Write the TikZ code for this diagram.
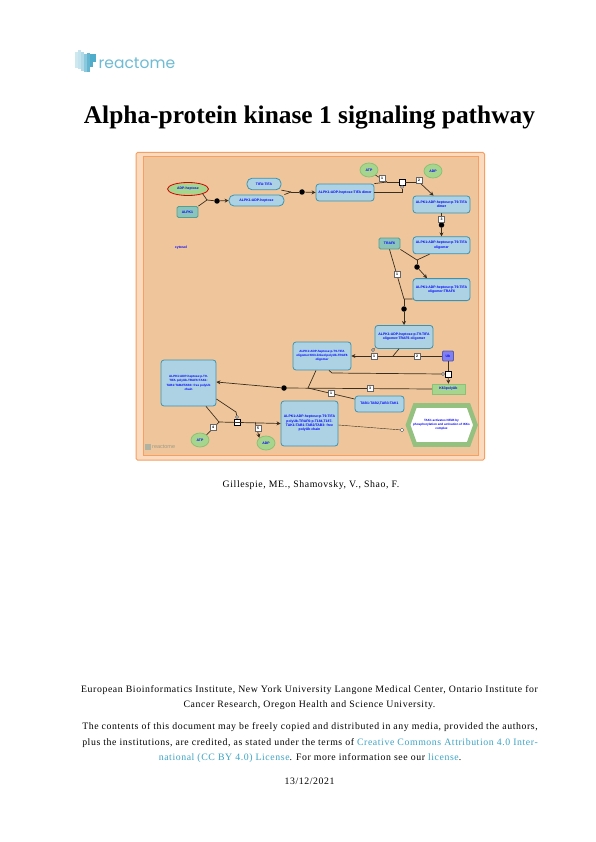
\documentclass[tikz,border=0pt]{standalone}
\usepackage{fontspec}
\usepackage{xcolor}
\setmainfont{Liberation Serif}
\setsansfont{Liberation Sans}
\newfontfamily\logofont{Poppins}
\newfontfamily\bodyfont[LetterSpace=6]{Liberation Serif}
\usetikzlibrary{arrows.meta,positioning,shapes}
\definecolor{panelout}{RGB}{250,219,192}
\definecolor{panelin}  {RGB}{239,198,155}
\definecolor{panelline}{RGB}{248,158,96}
\definecolor{cplxblue} {RGB}{172,210,228}
\definecolor{cplxline} {RGB}{60,146,176}
\definecolor{protteal} {RGB}{138,196,186}
\definecolor{protline} {RGB}{88,158,142}
\definecolor{chemgreen}{RGB}{166,214,142}
\definecolor{chemline} {RGB}{140,192,120}
\definecolor{ubblue}   {RGB}{128,128,240}
\definecolor{linkblue} {RGB}{62,164,198}
\definecolor{edgedark} {RGB}{58,46,32}
\tikzset{
  nodetext/.style={font=\sffamily\bfseries\fontsize{3.45}{4.4}\selectfont, text=blue, align=center},
  smalltext/.style={font=\sffamily\bfseries\fontsize{3.05}{4.2}\selectfont},
  mainbox/.style={draw=cplxline, fill=cplxblue, line width=0.8pt, rounded corners=3pt,
                  nodetext, inner sep=0pt, minimum width=#1},
  mainbox/.default=57pt,
  protbox/.style={draw=protline, fill=protteal, line width=0.8pt, rounded corners=1.5pt,
                  nodetext, inner sep=0pt, minimum width=#1, minimum height=11pt},
  chemnode/.style={ellipse, draw=chemline, fill=chemgreen, line width=0.8pt,
                   nodetext, inner sep=0pt, minimum width=18pt, minimum height=14pt},
  dotnode/.style={circle, fill=black, inner sep=0pt, minimum size=5.5pt},
  procnode/.style={draw=black, fill=white, line width=0.5pt, inner sep=0pt, minimum size=6pt},
  catnode/.style={circle, draw=black!70, fill=white, line width=0.4pt, inner sep=0pt, minimum size=3pt},
  numnode/.style={draw=black!60, fill=white, line width=0.8pt, inner sep=0pt, minimum size=6pt,
                  font=\sffamily\bfseries\fontsize{3.5}{4}\selectfont},
  sline/.style={draw=edgedark, line width=0.7pt},
  arr/.style={sline, -{Stealth[length=4pt,width=4pt]}},
  bodyline/.style={font=\bodyfont\fontsize{9.8}{11}\selectfont, inner sep=0pt},
  panelbox/.style={line width=1pt, draw=panelline},
}
\begin{document}
\begin{tikzpicture}[x=1pt,y=-1pt]
  \useasboundingbox (0,0) rectangle (595,842);
  \fill[white] (0,0) rectangle (595,842);
  % logo
  \foreach \lx/\ly/\lh/\lo in {75/52/16/.25,78/50/19/.3,81/52/19/.4,84/54/18/.6,87/53/19/.8,90/54/13/.9,93/54/8/.9}
    \fill[linkblue, opacity=\lo] (\lx,\ly) rectangle (\lx+3,\ly+\lh);
  \node[font=\logofont\fontsize{15.5}{18}\selectfont, text=linkblue!75, inner sep=0pt, anchor=west] (logo) at (98.5,63) {reactome};
  \node[font=\bfseries\fontsize{25.4}{28}\selectfont, inner sep=0pt] (title) at (309.5,117) {Alpha-protein kinase 1 signaling pathway};
  % panel
  \draw[panelbox, fill=panelout, rounded corners=1.5pt] (136,152.5) rectangle (484.5,460);
  \draw[panelbox, fill=panelin] (143,157) rectangle (478,455);
  \node[nodetext] (cytosol) at (181,248) {cytosol};
  \node[font=\sffamily\fontsize{5.5}{6}\selectfont, text=black!40!cplxline, opacity=.4, inner sep=0pt, anchor=west] (wmark) at (152,447) {reactome};
  \fill[cplxline, opacity=.35] (145,444) rectangle (150.5,450);
  % molecules
  \node[chemnode, draw=red!85!black, minimum width=41pt, minimum height=13pt] (adphep) at (188,189) {ADP-heptose};
  \node[protbox=21pt] (alpk) at (187.5,212) {ALPK1};
  \node[mainbox=55pt, minimum height=11pt, rounded corners=5pt] (cplxA) at (256.5,200.5) {ALPK1:ADP-heptose};
  \node[mainbox=34pt, minimum height=11.5pt, rounded corners=5pt] (tifa) at (264,184) {TIFA:TIFA};
  \node[mainbox=58pt, minimum height=17pt] (cplxB) at (345,192.5) {ALPK1:ADP-heptose:TIFA dimer};
  \node[chemnode] (atpA) at (369,170) {ATP};
  \node[chemnode] (adpA) at (433,171) {ADP};
  \node[mainbox, minimum height=17pt] (cplxC) at (441.5,204.5) {ALPK1:ADP-heptose:p-T9-TIFA\\dimer};
  \node[mainbox, minimum height=17pt, below=23pt of cplxC] (cplxD) {ALPK1:ADP-heptose:p-T9-TIFA\\oligomer};
  \node[protbox=21pt] (traf) at (389.5,243.5) {TRAF6};
  \node[mainbox, minimum height=22pt, below=24pt of cplxD] (cplxE) {ALPK1:ADP-heptose:p-T9-TIFA\\oligomer:TRAF6};
  \node[mainbox=58pt, minimum height=23pt, below=24pt of cplxE, xshift=-37.5pt] (cplxF) {ALPK1:ADP-heptose:p-T9-TIFA\\oligomer:TRAF6 oligomer};
  \node[mainbox=58pt, minimum height=28pt, smalltext] (cplxG) at (322,356) {ALPK1:ADP-heptose:p-T9-TIFA\\oligomer:K63-linked polyUb-TRAF6\\oligomer};
  \node[draw=ubblue!70!black, fill=ubblue, line width=0.8pt, rounded corners=1pt, nodetext,
        inner sep=0pt, minimum width=11pt, minimum height=10pt] (ub) at (448,356) {Ub};
  \node[draw=chemline, fill=chemgreen, line width=0.5pt, nodetext, inner sep=0pt,
        minimum width=33pt, minimum height=10pt] (kub) at (448.5,389) {K63polyUb};
  \node[mainbox=49pt, minimum height=16pt] (tab) at (379.5,404) {TAB1:TAB2,TAB3:TAK1};
  \node[mainbox=55pt, minimum height=46pt, smalltext] (cplxH) at (188.5,383) {ALPK1:ADP-heptose:p-T9-\\TIFA polyUb-TRAF6:TAK1:\\TAB1:TAB2/TAB3: free polyUb\\chain};
  \node[mainbox=57pt, minimum height=45pt] (cplxJ) at (309.5,423.5) {ALPK1:ADP-heptose:p-T9-TIFA\\polyUb-TRAF6:p-T184,T187-\\TAK1:TAB1:TAB2/TAB3: free\\polyUb chain};
  \node[chemnode] (atpB) at (200,440) {ATP};
  \node[chemnode] (adpB) at (266,443) {ADP};
  % pathway box
  \draw[draw=chemgreen!90!black, fill=white, line width=4.6pt, line join=miter]
    (408,425) -- (415,405.5) -- (468.5,405.5) -- (475.5,425) -- (468.5,444.5) -- (415,444.5) -- cycle;
  \node[nodetext, smalltext] (react) at (441.5,425) {TAK1 activates NFkB by\\phosphorylation and activation of IKKs\\complex};
  % process marks
  \node[dotnode] (dotA) at (217,201) {};
  \node[dotnode] (dotB) at (302,192) {};
  \node[dotnode] (dotC) at (441.5,225) {};
  \node[dotnode] (dotD) at (417,267) {};
  \node[dotnode] (dotE) at (404,309) {};
  \node[dotnode] (dotF) at (284,388) {};
  \node[procnode] (procA) at (402,182) {};
  \node[procnode] (procB) at (448,374) {};
  \node[procnode] (procC) at (237,422) {};
  \node[catnode] (catA) at (402,187) {};
  \node[catnode] (catB) at (373,350) {};
  \node[catnode] (catC) at (443,374) {};
  \node[catnode] (catD) at (237,417) {};
  \node[diamond, draw=black!70, fill=white, line width=0.4pt, inner sep=0pt, minimum size=4pt] (hexdot) at (402,430) {};
  \coordinate (joinA) at (207,200);
  \coordinate (joinB) at (291,192);
  \coordinate (joinC) at (387,182);
  \coordinate (joinD) at (419,182);
  \coordinate (joinE) at (417,260);
  \coordinate (joinF) at (404,299);
  \coordinate (joinG) at (393,356);
  \coordinate (joinH) at (332,373);
  \coordinate (joinI) at (308,388);
  \coordinate (joinJ) at (219,422);
  \coordinate (joinK) at (236,412);
  \coordinate (joinL) at (255,422);
  % connectors
  \draw[sline](adphep.south east)--(joinA);
  \draw[sline](alpk.north east)--(joinA);
  \draw[sline](joinA)--(dotA);
  \draw[arr](dotA)--(cplxA.west);
  \draw[sline](tifa.south east)--(joinB);
  \draw[sline](cplxA.north east)--(joinB);
  \draw[sline](joinB)--(dotB);
  \draw[arr](dotB)--(cplxB.west);
  \draw[sline](cplxB.north east)--(joinC);
  \draw[sline](joinC)--(procA);
  \draw[sline](procA)--(joinD);
  \draw[sline](cplxB.east)-|(catA.south);
  \draw[arr](joinD)--([xshift=-8pt]cplxC.north);
  \draw[sline](cplxC.south)--(dotC);
  \draw[arr](dotC)--(cplxD.north);
  \draw[sline](traf.south east)--(joinE);
  \draw[sline]([xshift=-12pt]cplxD.south)--(joinE);
  \draw[sline](joinE)--(dotD);
  \draw[arr](dotD)--([xshift=-14.5pt]cplxE.north);
  \draw[sline](traf.south)--(joinF);
  \draw[sline]([yshift=2pt]cplxE.south west)--(joinF);
  \draw[sline](joinF)--(dotE);
  \draw[arr](dotE)--(cplxF.north);
  \draw[arr](ub.west)--(cplxG.east);
  \draw[sline]([xshift=-5pt]cplxF.south)--(joinG);
  \draw[sline](cplxF.south west)to[out=200,in=60](catB);
  \draw[sline](ub.south)--(procB);
  \draw[arr](procB)--(kub.north);
  \draw[sline]([xshift=7pt]cplxG.south)--(joinH)--(catC);
  \draw[arr](kub.west)--(dotF)--([yshift=1pt]cplxH.east);
  \draw[sline]([xshift=-6pt]cplxG.south)--(joinI);
  \draw[sline](joinI)--([yshift=5pt]tab.west);
  \draw[sline]([xshift=17.5pt]cplxH.south)--(joinJ);
  \draw[sline]([yshift=-16pt]cplxH.east)--(joinK)--(catD);
  \draw[arr](joinJ)--(cplxJ.west);
  \draw[sline](atpB.north east)--(joinJ);
  \draw[arr](joinL)--(adpB.north west);
  \draw[sline, line width=0.4pt]([yshift=-1.5pt]cplxJ.east)--(hexdot);
  \draw[sline](atpA.south east)--(joinC);
  % step numbers
  \node[numnode] (numA) at (382,178) {1};
  \node[numnode] (numB) at (419,180) {2};
  \node[numnode] (numC) at (441.5,219) {3};
  \node[numnode] (numD) at (397,274) {1};
  \node[numnode] (numE) at (374,356) {1};
  \node[numnode] (numF) at (417,356) {2};
  \node[numnode] (numG) at (370,388) {3};
  \node[numnode] (numH) at (331,393) {1};
  \node[numnode] (numI) at (213,427) {4};
  \node[numnode] (numJ) at (258,428) {5};
  % footer
  \node[bodyline] (authors) at (311,485) {Gillespie, ME., Shamovsky, V., Shao, F.};
  \node[bodyline] (instA) at (309.5,690) {European Bioinformatics Institute, New York University Langone Medical Center, Ontario Institute for};
  \node[bodyline] (instB) at (309.5,705) {Cancer Research, Oregon Health and Science University.};
  \node[bodyline] (termA) at (310,727.5) {The contents of this document may be freely copied and distributed in any media, provided the authors,};
  \node[bodyline] (termB) at (310,743) {plus the institutions, are credited, as stated under the terms of \textcolor{linkblue}{Creative Commons Attribution 4.0 Inter-}};
  \node[bodyline] (termC) at (310,758) {\textcolor{linkblue}{national (CC BY 4.0) License}. For more information see our \textcolor{linkblue}{license}.};
  \node[bodyline] (stamp) at (309.5,781) {13/12/2021};
\end{tikzpicture}
\end{document}
